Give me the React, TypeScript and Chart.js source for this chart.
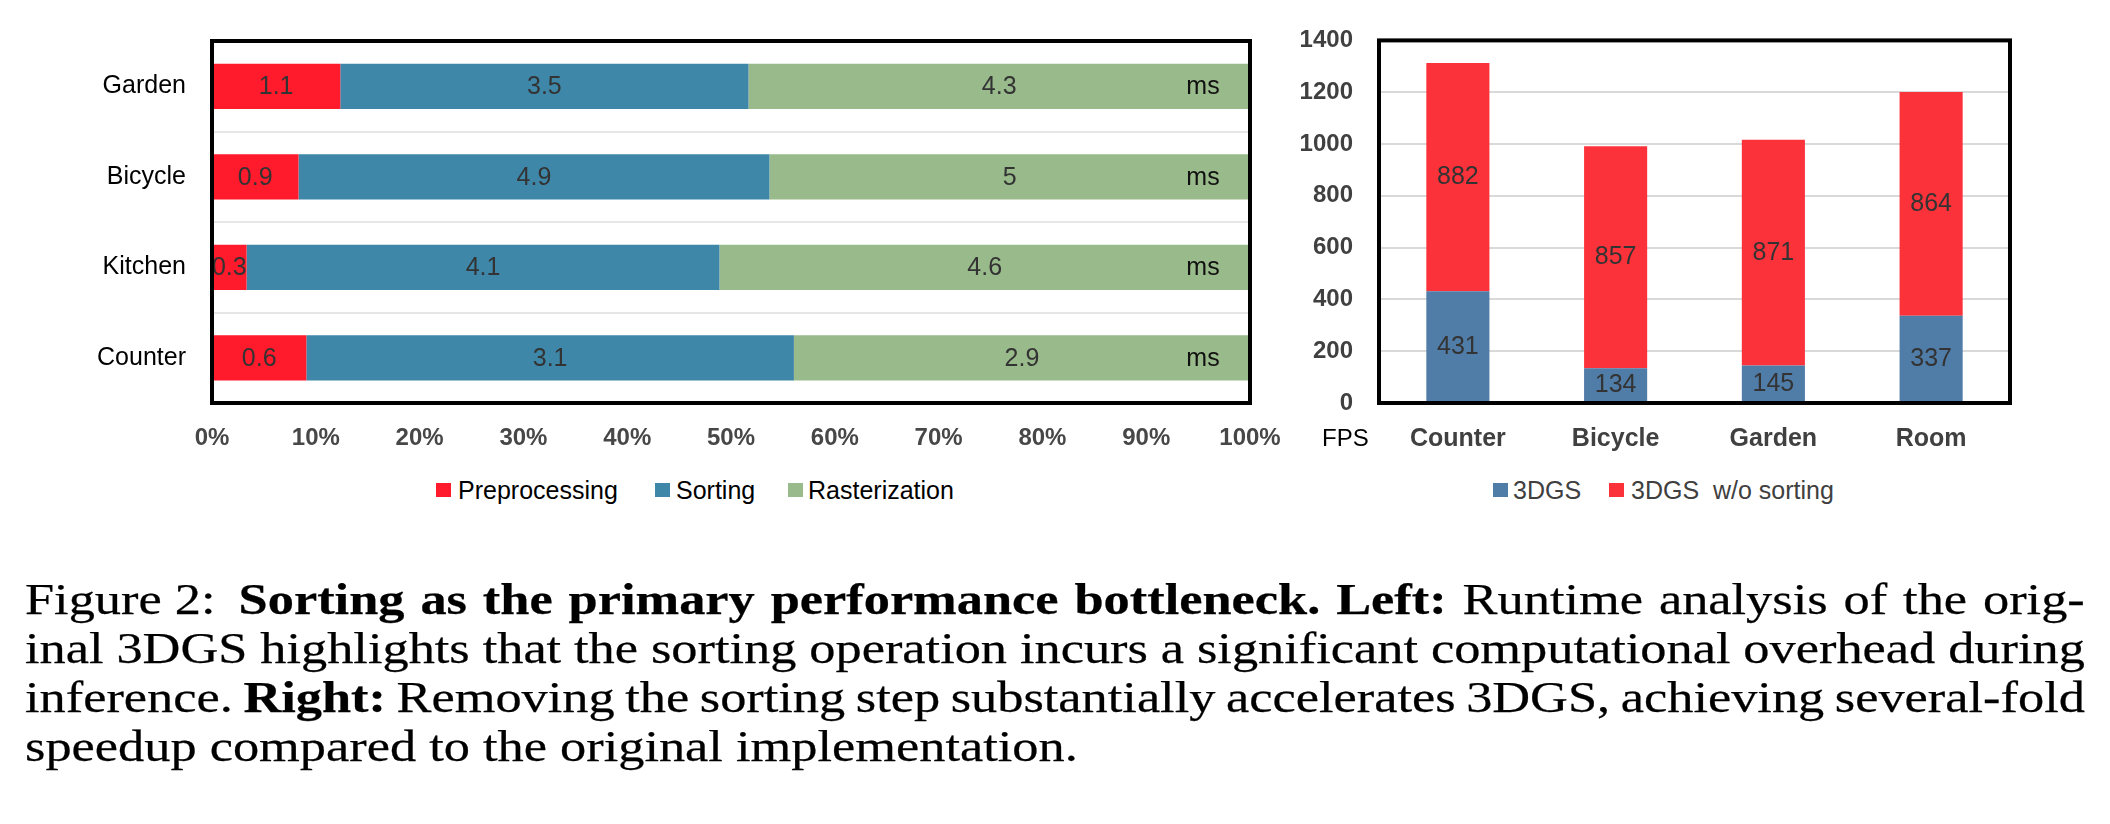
import React, { useEffect, useRef } from "react";
import { Chart, registerables } from "chart.js";

Chart.register(...registerables);

// ---- Runtime breakdown (ms) per scene ----
const scenes = ["Garden", "Bicycle", "Kitchen", "Counter"];
const preprocessingMs = [1.1, 0.9, 0.3, 0.6];
const sortingMs = [3.5, 4.9, 4.1, 3.1];
const rasterizationMs = [4.3, 5, 4.6, 2.9];
const stageNames = ["Preprocessing", "Sorting", "Rasterization"];
const timeUnit = "ms";

// ---- Frame rate per scene ----
const fpsScenes = ["Counter", "Bicycle", "Garden", "Room"];
const fps3dgs = [431, 134, 145, 337];
const fpsNoSorting = [882, 857, 871, 864];
const fpsSeriesNames = ["3DGS", "3DGS  w/o sorting"];
const fpsAxisName = "FPS";

const SANS = "'Liberation Sans', Arial, sans-serif";
const SERIF = "'Liberation Serif', 'Times New Roman', serif";

const RED_L = "#FF1A2C";
const BLUE_L = "#3E87A8";
const GREEN_L = "#99BA8B";
const BLUE_R = "#507CA8";
const RED_R = "#FC323B";

// Writes each segment's own value in the middle of the segment,
// plus an optional unit at the right end of every row.
const segmentLabels = {
  id: "segmentLabels",
  afterDatasetsDraw(chart: any, _args: any, opts: any) {
    const { ctx, chartArea } = chart;
    ctx.save();
    ctx.font = opts.font;
    ctx.fillStyle = opts.color;
    ctx.textAlign = "center";
    ctx.textBaseline = "middle";
    chart.data.datasets.forEach((ds: any, i: number) => {
      const meta = chart.getDatasetMeta(i);
      meta.data.forEach((el: any, j: number) => {
        const p = el.getCenterPoint();
        ctx.fillText(String(ds.valueLabels[j]), p.x, p.y + (opts.dy || 0));
      });
    });
    if (opts.unit) {
      const yScale = chart.scales.y;
      ctx.fillStyle = opts.unitColor;
      chart.data.labels.forEach((_l: any, j: number) => {
        ctx.fillText(opts.unit, chartArea.right - opts.unitInset, yScale.getPixelForValue(j) + (opts.dy || 0));
      });
    }
    ctx.restore();
  },
};

// Heavy black box around the plotting area.
const plotFrame = {
  id: "plotFrame",
  afterDraw(chart: any) {
    const { ctx, chartArea: a } = chart;
    ctx.save();
    ctx.strokeStyle = "#000";
    ctx.lineWidth = 4;
    ctx.strokeRect(a.left, a.top, a.right - a.left, a.bottom - a.top);
    ctx.restore();
  },
};

function RuntimeChart() {
  const ref = useRef<HTMLCanvasElement | null>(null);
  useEffect(() => {
    const totals = scenes.map((_, i) => preprocessingMs[i] + sortingMs[i] + rasterizationMs[i]);
    const share = (arr: number[]) => arr.map((v, i) => (v / totals[i]) * 100);
    const chart = new Chart(ref.current as HTMLCanvasElement, {
      type: "bar",
      data: {
        labels: scenes,
        datasets: [
          { label: stageNames[0], data: share(preprocessingMs), valueLabels: preprocessingMs, backgroundColor: RED_L } as any,
          { label: stageNames[1], data: share(sortingMs), valueLabels: sortingMs, backgroundColor: BLUE_L } as any,
          { label: stageNames[2], data: share(rasterizationMs), valueLabels: rasterizationMs, backgroundColor: GREEN_L } as any,
        ],
      },
      options: {
        indexAxis: "y",
        responsive: false,
        animation: false,
        layout: { padding: { top: 34, right: 60, left: 0, bottom: 0 } },
        datasets: { bar: { categoryPercentage: 1, barPercentage: 0.5, borderWidth: 0 } },
        plugins: {
          legend: { display: false },
          tooltip: { enabled: false },
          segmentLabels: {
            font: `25px ${SANS}`,
            color: "#333333",
            dy: 1,
            unit: timeUnit,
            unitColor: "#111111",
            unitInset: 47,
          },
        } as any,
        scales: {
          x: {
            stacked: true,
            min: 0,
            max: 100,
            ticks: {
              stepSize: 10,
              callback: (v: any) => `${v}%`,
              font: { family: SANS, size: 24, weight: "bold" },
              color: "#474747",
              padding: 21,
            },
            grid: { display: false, drawTicks: false },
            border: { display: false },
            afterFit: (s: any) => {
              s.height = 67;
            },
          },
          y: {
            stacked: true,
            ticks: { font: { family: SANS, size: 25 }, color: "#000", padding: 26 },
            grid: { color: "#e6e6e6", lineWidth: 2, drawTicks: false, offset: true },
            border: { display: false },
            afterFit: (s: any) => {
              s.width = 212;
            },
          },
        },
      },
      plugins: [segmentLabels, plotFrame],
    });
    return () => chart.destroy();
  }, []);
  return (
    <canvas
      ref={ref}
      width={1310}
      height={470}
      style={{ position: "absolute", left: 0, top: 0, display: "block" }}
    />
  );
}

function FpsChart() {
  const ref = useRef<HTMLCanvasElement | null>(null);
  useEffect(() => {
    const chart = new Chart(ref.current as HTMLCanvasElement, {
      type: "bar",
      data: {
        labels: fpsScenes,
        datasets: [
          { label: fpsSeriesNames[0], data: fps3dgs, valueLabels: fps3dgs, backgroundColor: BLUE_R } as any,
          { label: fpsSeriesNames[1], data: fpsNoSorting, valueLabels: fpsNoSorting, backgroundColor: RED_R } as any,
        ],
      },
      options: {
        responsive: false,
        animation: false,
        layout: { padding: { top: 35, right: 100, left: 0, bottom: 0 } },
        datasets: { bar: { categoryPercentage: 1, barPercentage: 0.4, borderWidth: 0 } },
        plugins: {
          legend: { display: false },
          tooltip: { enabled: false },
          segmentLabels: { font: `25px ${SANS}`, color: "#333333", dy: 0 },
        } as any,
        scales: {
          x: {
            stacked: true,
            ticks: { font: { family: SANS, size: 25, weight: "bold" }, color: "#404040", padding: 21 },
            grid: { display: false, drawTicks: false },
            border: { display: false },
            afterFit: (s: any) => {
              s.height = 67;
            },
          },
          y: {
            stacked: true,
            min: 0,
            max: 1400,
            ticks: {
              stepSize: 200,
              callback: (v: any) => String(v),
              font: { family: SANS, size: 24, weight: "bold" },
              color: "#404040",
              padding: 26,
            },
            grid: { color: "#d9d9d9", lineWidth: 2, drawTicks: false },
            border: { display: false },
            afterFit: (s: any) => {
              s.width = 99;
            },
          },
        },
      },
      plugins: [segmentLabels, plotFrame],
    });
    return () => chart.destroy();
  }, []);
  return (
    <canvas
      ref={ref}
      width={830}
      height={470}
      style={{ position: "absolute", left: 1280, top: 0, display: "block" }}
    />
  );
}

function LegendItem(props: { boxX: number; textX: number; color: string; label: string; textColor: string }) {
  return (
    <>
      <div
        style={{
          position: "absolute",
          left: props.boxX,
          top: 483,
          width: 15,
          height: 14,
          background: props.color,
        }}
      />
      <span
        style={{
          position: "absolute",
          left: props.textX,
          top: 490,
          transform: "translateY(-50%)",
          fontFamily: SANS,
          fontSize: 25,
          lineHeight: 1,
          color: props.textColor,
          whiteSpace: "pre",
        }}
      >
        {props.label}
      </span>
    </>
  );
}

type Seg = { t: string; b?: boolean };

const captionLines: Seg[][] = [
  [
    { t: "Figure\u00a02:" },
    { t: "Sorting as the primary performance bottleneck.", b: true },
    { t: "Left:", b: true },
    { t: "Runtime analysis of the orig-" },
  ],
  [{ t: "inal 3DGS highlights that the sorting operation incurs a significant computational overhead during" }],
  [
    { t: "inference." },
    { t: "Right:", b: true },
    { t: "Removing the sorting step substantially accelerates 3DGS, achieving several-fold" },
  ],
  [{ t: "speedup compared to the original implementation." }],
];

const CAPTION_SCALE = 1.19;
const CAPTION_WIDTH = 2060;
const CAPTION_LINE = 49;

// A fully justified caption line: words spread edge to edge.
function JustifiedLine({ segs, lead }: { segs: Seg[]; lead: number }) {
  const words: { w: string; b: boolean }[] = [];
  segs.forEach((s) => s.t.split(" ").forEach((w) => words.push({ w, b: !!s.b })));
  return (
    <div style={{ display: "flex", justifyContent: "space-between", height: CAPTION_LINE, whiteSpace: "nowrap" }}>
      {words.map((x, i) => (
        <span key={i} style={{ fontWeight: x.b ? 700 : 400, marginRight: i === 0 ? lead : 0 }}>
          {x.w}
        </span>
      ))}
    </div>
  );
}

function Caption() {
  const last = captionLines[captionLines.length - 1];
  return (
    <div
      style={{
        position: "absolute",
        left: 25,
        top: 575,
        width: CAPTION_WIDTH / CAPTION_SCALE,
        fontFamily: SERIF,
        fontSize: 44,
        lineHeight: `${CAPTION_LINE}px`,
        color: "#000",
        WebkitTextStroke: "0.25px #000",
        transform: `scaleX(${CAPTION_SCALE})`,
        transformOrigin: "0 0",
      }}
    >
      {captionLines.slice(0, -1).map((segs, i) => (
        <JustifiedLine key={i} segs={segs} lead={i === 0 ? 6 : 0} />
      ))}
      <div style={{ height: CAPTION_LINE, whiteSpace: "nowrap" }}>
        {last.map((s, i) => (
          <span key={i} style={{ fontWeight: s.b ? 700 : 400 }}>
            {s.t}
          </span>
        ))}
      </div>
    </div>
  );
}

export default function App() {
  return (
    <div
      style={{
        position: "absolute",
        left: 0,
        top: 0,
        width: 2110,
        height: 824,
        background: "#fff",
        overflow: "hidden",
      }}
    >
      <RuntimeChart />
      <FpsChart />
      <LegendItem boxX={436} textX={458} color={RED_L} label={stageNames[0]} textColor="#000" />
      <LegendItem boxX={655} textX={676} color={BLUE_L} label={stageNames[1]} textColor="#000" />
      <LegendItem boxX={788} textX={808} color={GREEN_L} label={stageNames[2]} textColor="#000" />
      <span
        style={{
          position: "absolute",
          left: 1322,
          top: 438,
          transform: "translateY(-50%)",
          fontFamily: SANS,
          fontSize: 24,
          lineHeight: 1,
          color: "#000",
        }}
      >
        {fpsAxisName}
      </span>
      <LegendItem boxX={1493} textX={1513} color={BLUE_R} label={fpsSeriesNames[0]} textColor="#404040" />
      <LegendItem boxX={1609} textX={1631} color={RED_R} label={fpsSeriesNames[1]} textColor="#404040" />
      <Caption />
    </div>
  );
}
